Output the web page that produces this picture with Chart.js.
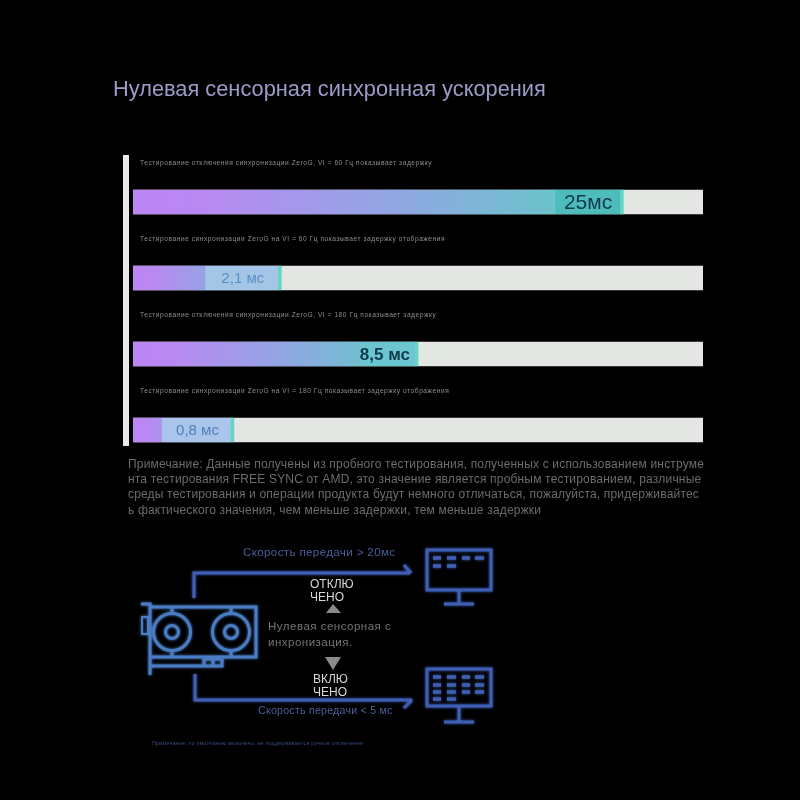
<!DOCTYPE html>
<html lang="ru">
<head>
<meta charset="utf-8">
<script src="https://cdn.jsdelivr.net/npm/chart.js@4/dist/chart.umd.js"></script>
<style>
html,body{margin:0;padding:0;background:#000;width:800px;height:800px;overflow:hidden;font-family:"Liberation Sans",Arial,sans-serif}
.t{position:absolute;white-space:nowrap}
#wrap{position:absolute;left:0;top:0;width:800px;height:800px}
svg{position:absolute;left:0;top:0}
</style>
</head>
<body>
<div id="wrap"><canvas id="c" width="800" height="800"></canvas></div>

<svg width="800" height="800" fill="none" stroke-width="3">
  <defs>
    <filter id="g" x="-20%" y="-20%" width="140%" height="140%">
      <feGaussianBlur in="SourceGraphic" stdDeviation="1.8" result="b"/>
      <feMerge><feMergeNode in="b"/><feMergeNode in="SourceGraphic"/></feMerge>
    </filter>
  </defs>
  <g filter="url(#g)" stroke="#3f5fb4">
    <path d="M194 598V573H410M404 565L411 573"/>
    <path d="M195 674V700H412M404 708L412 700"/>
  </g>
  <g filter="url(#g)" stroke="#4a7cc4">
    <path d="M141 604H150V675M150 607H256V657H150M150 666H204V659H222V666H204M213 659V666"/>
    <rect x="142" y="617" width="6" height="17" stroke-width="2"/>
    <circle cx="172" cy="632" r="18.5"/><circle cx="172" cy="632" r="6.5"/>
    <circle cx="231" cy="632" r="18.5"/><circle cx="231" cy="632" r="6.5"/>
    <path d="M172 607V613M172 651V657M231 607V613M231 651V657"/>
  </g>
  <g filter="url(#g)" stroke="#3f5fb4">
    <rect x="427" y="550" width="64" height="40"/>
    <path d="M459 590V604M444 604H474"/>
    <rect x="427" y="669" width="64" height="37"/>
    <path d="M459 706V721M444 722H474"/>
    <path stroke-width="3.5" d="M433 558H441M447 558H456M462 558H470M475 558H484M433 566H441M447 566H456"/>
    <path stroke-width="3.5" d="M433 677H441M447 677H456M462 677H470M475 677H484M433 685H441M447 685H456M462 685H470M475 685H484M433 692H441M447 692H456M462 692H470M475 692H484M433 699H441M447 699H456"/>
  </g>
  <path d="M326 613L333 604L341 613Z" fill="#8a8a8a"/>
  <path d="M325 657H341L333 670Z" fill="#8a8a8a"/>
</svg>

<script>
const categories = [
  "Тестирование отключения синхронизации ZeroG, VI = 60 Гц показывает задержку",
  "Тестирование синхронизации ZeroG на VI = 60 Гц показывает задержку отображения",
  "Тестирование отключения синхронизации ZeroG, VI = 180 Гц показывает задержку",
  "Тестирование синхронизации ZeroG на VI = 180 Гц показывает задержку отображения"
];
const valueLabels = ["25мс", "2,1 мс", "8,5 мс", "0,8 мс"];
const barLengths = [86, 26, 50, 17.7];
const trackLengths = [100, 100, 100, 100];
const noteLines = [
  "Примечание: Данные получены из пробного тестирования, полученных с использованием инструме",
  "нта тестирования FREE SYNC от AMD, это значение является пробным тестированием, различные",
  "среды тестирования и операции продукта будут немного отличаться, пожалуйста, придерживайтес",
  "ь фактического значения, чем меньше задержки, тем меньше задержки"
];
const titleText = "Нулевая сенсорная синхронная ускорения";

const labelStyles = [
  {font:"21px 'Liberation Sans'", color:"#0e3a4a", box:"#4fbcbc", boxW:68, pad:11},
  {font:"15px 'Liberation Sans'", color:"#5b8fc4", box:"#a4c6e6", boxW:76, pad:17},
  {font:"bold 17px 'Liberation Sans'", color:"#0e3a4a", box:"#6cc6d2", boxW:58, pad:8},
  {font:"15px 'Liberation Sans'", color:"#4f7fb8", box:"#a9c5ea", boxW:72, pad:15}
];

function gradient(ctx){
  const {chart, dataIndex} = ctx;
  if(!chart.chartArea || !chart.scales.x) return "#8aa4e0";
  const x = chart.scales.x;
  const g = chart.ctx.createLinearGradient(x.left,0,x.getPixelForValue(barLengths[dataIndex]),0);
  g.addColorStop(0,"#bd85f5");
  g.addColorStop(0.14,"#b988f2");
  g.addColorStop(0.55,"#8fa8e2");
  g.addColorStop(1,"#5cd0c2");
  return g;
}

const overlay = {
  id:"overlay",
  afterDatasetsDraw(chart){
    const c = chart.ctx, x = chart.scales.x;
    const m = chart.getDatasetMeta(1).data;
    c.save();
    // divider line at the left of the bars
    c.fillStyle="#e9e9e9";
    c.fillRect(123,155,6,291);
    m.forEach((bar,i)=>{
      const s = labelStyles[i];
      const end = x.getPixelForValue(barLengths[i]);
      const top = bar.y-12, h = 24;
      c.fillStyle=s.box;
      c.fillRect(end-s.boxW,top,s.boxW-3,h);
      c.fillStyle="#63d6c4";
      c.fillRect(end-3,top,3,h);
      c.fillStyle=s.color;
      c.font=s.font;
      c.textAlign="right";
      c.textBaseline="middle";
      c.fillText(valueLabels[i],end-s.pad,bar.y+1);
      // small caption above each bar
      c.fillStyle="#8f8f8f";
      c.font="6.6px 'Liberation Sans'";
      c.letterSpacing="0.55px";
      c.textAlign="left";
      c.fillText(categories[i],140,bar.y-39);
      c.letterSpacing="0px";
    });
    c.restore();
  }
};

new Chart(document.getElementById("c"),{
  type:"bar",
  data:{
    labels:categories,
    datasets:[
      {data:trackLengths,backgroundColor:"#e4e6e4",grouped:false,order:2,barThickness:24},
      {data:barLengths,backgroundColor:gradient,grouped:false,order:1,barThickness:24}
    ]
  },
  options:{
    indexAxis:"y",
    responsive:false,
    animation:false,
    layout:{padding:{left:133,right:97,top:164,bottom:332}},
    plugins:{legend:{display:false},tooltip:{enabled:false}},
    scales:{
      x:{display:false,min:0,max:100},
      y:{display:false}
    }
  },
  plugins:[overlay]
});

function addText(txt,left,top,size,color,extra){
  const d=document.createElement("div");
  d.className="t";d.textContent=txt;
  d.style.cssText+=`left:${left}px;top:${top}px;font-size:${size}px;color:${color};${extra||""}`;
  document.body.appendChild(d);
}
addText(titleText,113,76,21.8,"#9d9bc8");
noteLines.forEach((l,i)=>addText(l,128,457+i*15.2,12,"#6c6c6c","letter-spacing:.18px"));
addText("Скорость передачи > 20мс",243,545,11.6,"#4d5f9c","letter-spacing:.35px");
addText("Скорость передачи < 5 мс",258,704,10.6,"#4d5f9c","letter-spacing:.25px");
addText("ОТКЛЮ",310,577,12,"#d8d8d8");
addText("ЧЕНО",310,590,12,"#d8d8d8");
addText("Нулевая сенсорная с",268,620,11.5,"#757575","letter-spacing:.5px");
addText("инхронизация.",268,636,11.5,"#757575","letter-spacing:.5px");
addText("ВКЛЮ",313,672,12,"#d8d8d8");
addText("ЧЕНО",313,685,12,"#d8d8d8");
addText("Примечание: по умолчанию включено, не поддерживается ручное отключение",152,740,5.4,"#3a4a80","letter-spacing:.2px");
</script>
</body>
</html>
